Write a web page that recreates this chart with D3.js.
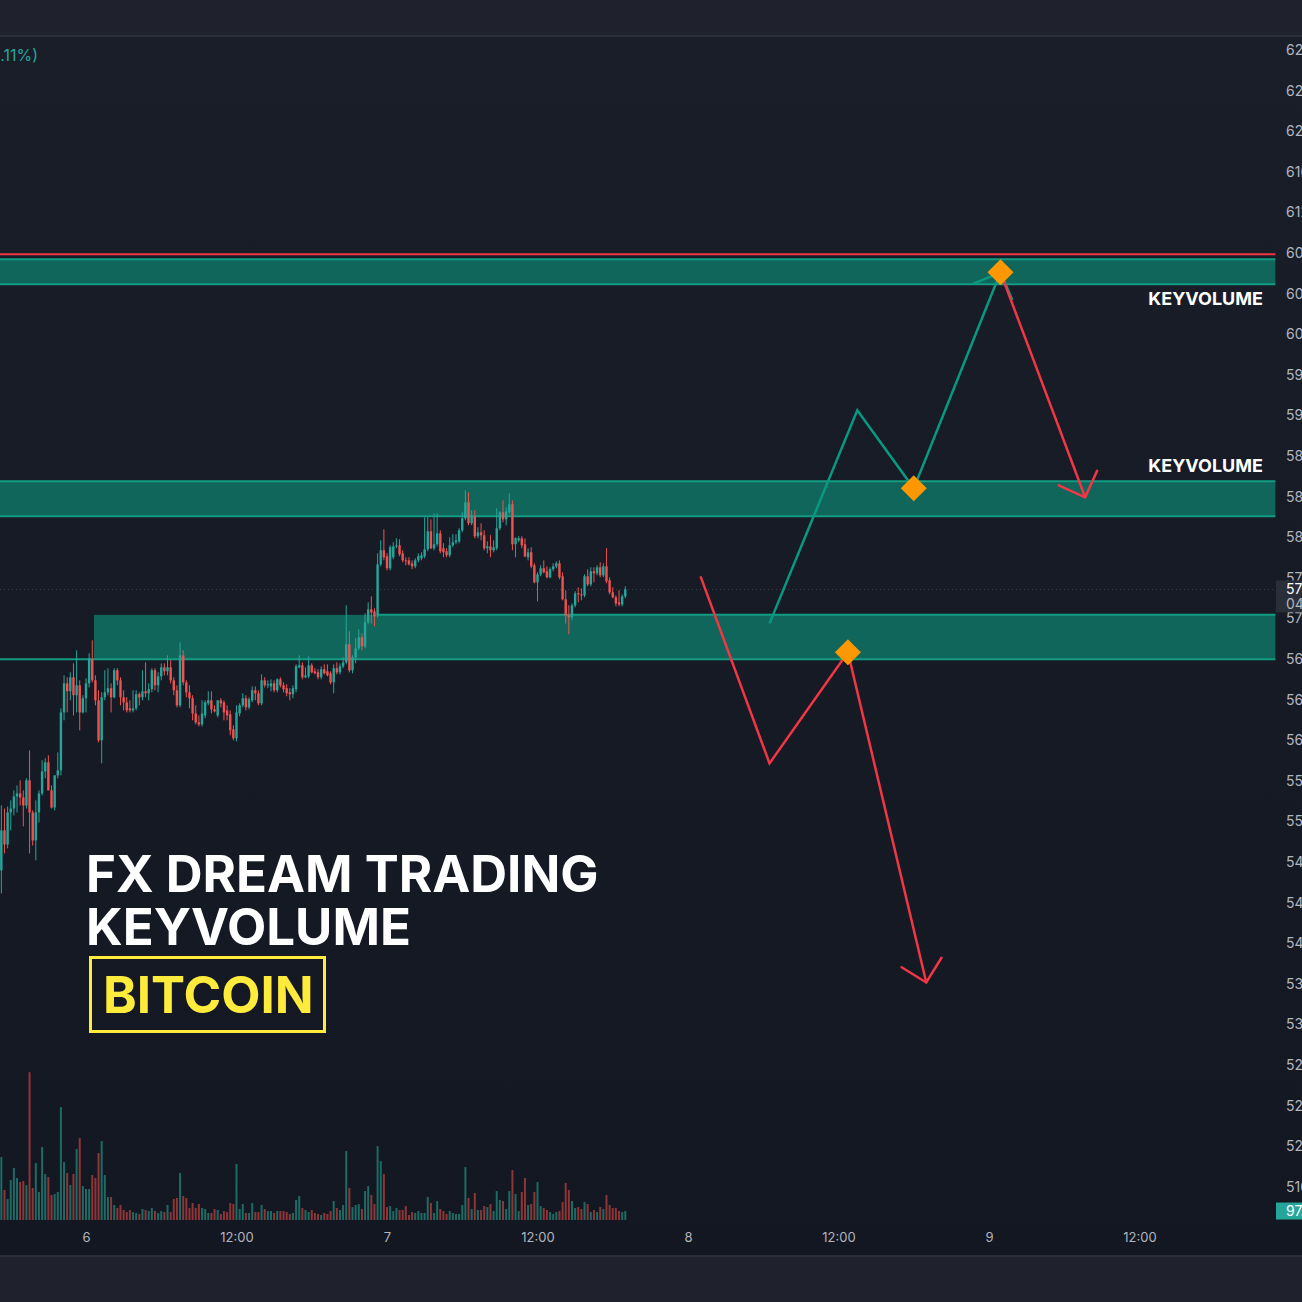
<!DOCTYPE html>
<html>
<head>
<meta charset="utf-8">
<script src="https://cdn.jsdelivr.net/npm/d3@7"></script>
<style>
  body { margin: 0; background: #171b26; }
  svg { display: block; }
</style>
</head>
<body>
<svg id="chart"></svg>
<script>
// ---- data ----
// BTC 15 minute candles, first bar at 5th 17:15 UTC
var firstBar = Date.UTC(2024, 7, 5, 17, 15);
var barMinutes = 15;

// [open, high, low, close]
var ohlc = [
  [54719,55358,54492,55113],[55113,55328,54886,54974],[54974,55348,54936,55290],[55290,55408,55113,55328],
  [55328,55507,55260,55447],[55447,55556,55290,55477],[55477,55606,55358,55437],[55437,55507,55153,55358],
  [55358,55626,55328,55606],[55606,55901,54886,55290],[55290,55310,54964,55014],[55014,55408,54817,55290],
  [55290,55507,55191,55477],[55477,55803,55457,55694],[55694,55823,55626,55783],[55783,55852,55507,55507],
  [55507,55556,55328,55338],[55338,55655,55310,55655],[55655,55881,55626,55704],[55704,56315,55655,56275],
  [56275,56640,56197,56561],[56561,56621,56275,56483],[56483,56670,56394,56621],[56621,56758,56245,56444],
  [56444,56887,56275,56542],[56542,56591,56098,56275],[56275,56444,56265,56414],[56414,56611,56275,56561],
  [56561,56857,56521,56808],[56798,56985,56571,56591],[56591,56640,56345,56394],[56394,56493,55980,56000],
  [56000,56473,55773,56424],[56424,56690,56394,56473],[56473,56710,56444,56513],[56513,56561,56275,56424],
  [56424,56710,56414,56690],[56690,56710,56542,56591],[56591,56621,56345,56424],[56424,56493,56295,56374],
  [56374,56424,56275,56295],[56315,56394,56275,56295],[56295,56493,56275,56315],[56315,56493,56295,56454],
  [56454,56473,56345,56424],[56424,56690,56394,56483],[56483,56768,56424,56463],[56463,56561,56394,56503],
  [56503,56710,56473,56690],[56690,56710,56493,56542],[56542,56670,56473,56630],[56630,56758,56591,56719],
  [56719,56758,56640,56680],[56680,56837,56640,56719],[56719,56788,56561,56591],[56591,56621,56444,56493],
  [56493,56542,56325,56345],[56345,56965,56325,56837],[56837,56887,56542,56571],[56571,56591,56424,56473],
  [56473,56542,56315,56414],[56414,56444,56197,56265],[56265,56345,56157,56177],[56177,56245,56137,56157],
  [56157,56394,56137,56265],[56245,56394,56217,56374],[56364,56483,56345,56394],[56394,56483,56265,56305],
  [56305,56345,56275,56285],[56245,56394,56227,56394],[56394,56414,56325,56364],[56374,56394,56197,56275],
  [56295,56345,56197,56245],[56255,56295,56049,56098],[56108,56147,56000,56020],[56020,56345,55990,56275],
  [56265,56364,56236,56345],[56345,56463,56325,56414],[56414,56444,56295,56325],[56325,56424,56305,56404],
  [56394,56532,56374,56493],[56493,56532,56394,56463],[56463,56493,56345,56364],[56364,56650,56345,56591],
  [56591,56621,56521,56542],[56542,56591,56513,56552],[56532,56601,56483,56561],[56561,56591,56473,56493],
  [56493,56611,56473,56601],[56601,56621,56521,56542],[56542,56571,56473,56503],[56513,56552,56434,56463],
  [56473,56513,56394,56454],[56454,56542,56414,56513],[56503,56748,56473,56729],[56719,56837,56709,56739],
  [56739,56768,56601,56621],[56621,56719,56611,56640],[56630,56827,56611,56739],[56739,56758,56660,56670],
  [56680,56710,56650,56660],[56670,56700,56601,56621],[56621,56729,56601,56700],[56700,56748,56650,56660],
  [56680,56748,56630,56640],[56660,56680,56552,56571],[56571,56748,56463,56710],[56710,56768,56650,56670],
  [56670,56758,56650,56729],[56729,56817,56709,56768],[56768,57330,56748,56946],[56946,57074,56670,56690],
  [56690,56837,56660,56817],[56817,57005,56758,56906],[56906,57094,56887,57015],[57015,57054,56887,56926],
  [56926,57251,56906,57162],[57162,57359,57142,57290],[57290,57418,57152,57260],[57270,57300,57123,57221],
  [57231,57842,57211,57734],[57734,57970,57714,57872],[57872,58079,57773,57803],[57813,57842,57675,57695],
  [57695,57921,57675,57902],[57803,57951,57783,57911],[57911,57990,57892,57921],[57921,57980,57813,57832],
  [57842,57872,57754,57773],[57773,57803,57724,57763],[57773,57803,57724,57733],[57743,57773,57685,57714],
  [57714,57793,57695,57773],[57773,57842,57754,57813],[57793,57852,57773,57823],[57813,58197,57793,57882],
  [57882,58197,57862,58059],[58059,58177,57882,57892],[57892,58236,57872,57931],[57931,58236,57911,58039],
  [58039,58069,57842,57862],[57892,57941,57803,57852],[57862,57892,57803,57823],[57823,58000,57803,57921],
  [57921,58030,57902,57951],[57951,58030,57931,57970],[57960,58089,57941,58069],[58069,58246,58049,58187],
  [58187,58463,58167,58344],[58344,58443,58118,58138],[58138,58266,58118,58207],[58207,58266,57990,58010],
  [58010,58099,57990,58049],[58049,58138,57970,58020],[58020,58069,57872,57892],[57892,57960,57842,57911],
  [57911,58020,57803,57872],[57872,57970,57852,57902],[57892,58286,57872,58089],[58089,58256,58069,58246],
  [58246,58364,58147,58177],[58177,58295,58118,58256],[58246,58433,58226,58325],[58325,58364,57872,57931],
  [57931,58000,57803,57990],[57970,58010,57951,57990],[57990,58010,57892,57921],[57931,57990,57803,57813],
  [57803,57892,57773,57852],[57852,57902,57695,57714],[57724,57744,57547,57556],[57556,57655,57369,57635],
  [57635,57724,57616,57695],[57695,57773,57645,57655],[57665,57714,57596,57606],[57606,57704,57596,57685],
  [57685,57744,57665,57714],[57714,57763,57695,57744],[57744,57773,57586,57606],[57616,57655,57379,57389],
  [57389,57478,57152,57231],[57231,57330,57044,57211],[57211,57349,57182,57330],[57330,57468,57310,57448],
  [57448,57507,57359,57438],[57438,57497,57379,57428],[57428,57635,57409,57616],[57616,57685,57517,57536],
  [57536,57704,57517,57665],[57665,57704,57556,57645],[57645,57724,57625,57704],[57704,57754,57606,57625],
  [57625,57744,57606,57714],[57714,57892,57547,57566],[57576,57606,57438,57458],[57458,57507,57399,57409],
  [57409,57428,57320,57349],[57359,57478,57320,57339],[57339,57438,57320,57418],[57418,57517,57399,57487]
];

var volume = [
  680,324,227,432,562,454,410,421,378,1598,346,616,302,788,497,464,270,281,302,1220,
  626,508,378,497,767,886,367,335,335,486,454,724,853,486,248,248,162,130,162,108,
  86,108,86,76,65,119,108,97,130,97,76,97,86,162,86,227,238,508,259,238,
  130,184,130,173,130,119,76,76,119,108,65,97,86,184,173,605,119,173,76,76,
  184,86,86,162,119,97,97,76,97,97,97,86,65,76,216,259,130,108,86,108,
  76,65,54,76,65,97,205,130,108,162,745,346,140,162,173,119,313,367,270,173,
  799,637,497,140,151,97,130,108,108,151,54,86,76,97,76,76,248,184,76,205,
  119,97,65,97,76,65,65,162,572,238,119,292,108,108,151,140,173,97,313,216,
  205,119,313,540,281,97,302,454,162,173,302,410,151,130,108,86,65,86,97,194,
  400,324,205,130,140,119,194,173,86,108,86,140,119,270,162,130,130,97,86,97
];

var priceTicks = [62800,62400,62000,61600,61200,60800,60400,60000,59600,59200,58800,58400,58000,
                  57600,57200,56800,56400,56000,55600,55200,54800,54400,54000,53600,53200,52800,52400,52000,51600];
var timeTicks = ["2024-08-06T00:00Z","2024-08-06T12:00Z","2024-08-07T00:00Z","2024-08-07T12:00Z",
                 "2024-08-08T00:00Z","2024-08-08T12:00Z","2024-08-09T00:00Z","2024-08-09T12:00Z"];

// key volume zones (time span + price band)
var zoneStart = "2024-08-05T17:00Z";
var zoneEnd = "2024-08-09T22:50Z";
var zoneTops = [60738, 58551, 57236];
var zoneBottoms = [60492, 58206, 56798];
var zoneFillFrom = [zoneStart, zoneStart, "2024-08-06T00:38Z"];
var zoneTopEdgeFrom = [zoneStart, zoneStart, "2024-08-06T23:12Z"];
var resistance = 60788;

// projection drawings [time, price]
var pathDown = [["2024-08-08T01:00Z",57615],["2024-08-08T06:30Z",55773],["2024-08-08T12:45Z",56867],["2024-08-08T19:00Z",53615]];
var pathUp = [["2024-08-08T06:30Z",57152],["2024-08-08T13:30Z",59251],["2024-08-08T18:00Z",58482],["2024-08-09T00:55Z",60610]];
var pathPullback = [["2024-08-09T00:55Z",60610],["2024-08-09T07:40Z",58394]];
var markers = [["2024-08-09T00:55Z",60610],["2024-08-08T18:00Z",58482],["2024-08-08T12:45Z",56867]];

// ---- layout ----
var W = 1302, H = 1302;
var plotRight = 1275;
var upColor = '#26a69a', downColor = '#ef5350';

var svg = d3.select('#chart').attr('width', W).attr('height', H);

var x = d3.scaleUtc()
    .domain([new Date("2024-08-06T00:00Z"), new Date("2024-08-09T00:00Z")])
    .range([86, 989]);
var y = d3.scaleLinear().domain([51600, 62800]).range([1187, 50]);
var yVol = d3.scaleLinear().domain([0, 1600]).range([1220, 1072]);

var bars = ohlc.map(function (d, i) {
    return { t: new Date(firstBar + i * barMinutes * 60000), o: d[0], h: d[1], l: d[2], c: d[3], v: volume[i] };
});

// background
var defs = svg.append('defs');
var grad = defs.append('linearGradient').attr('id', 'bg').attr('x1', 0).attr('y1', 0).attr('x2', 0).attr('y2', 1);
grad.append('stop').attr('offset', '0%').attr('stop-color', '#1a1e29');
grad.append('stop').attr('offset', '100%').attr('stop-color', '#131722');
svg.append('rect').attr('width', W).attr('height', H).attr('fill', 'url(#bg)');

// top and bottom bars
svg.append('rect').attr('x', 0).attr('y', 0).attr('width', W).attr('height', 35).attr('fill', '#1f222d');
svg.append('rect').attr('x', 0).attr('y', 35).attr('width', W).attr('height', 2).attr('fill', '#2a2e39');
svg.append('rect').attr('x', 0).attr('y', 1256).attr('width', W).attr('height', 46).attr('fill', '#1f222d');
svg.append('rect').attr('x', 0).attr('y', 1255).attr('width', W).attr('height', 2).attr('fill', '#2a2e39');

// zones
var zoneIdx = d3.range(zoneTops.length);
var zg = svg.append('g');
zg.selectAll('rect.zone')
    .data(zoneIdx).enter().append('rect')
    .attr('class', 'zone')
    .attr('x', function (i) { return Math.max(0, x(new Date(zoneFillFrom[i]))); })
    .attr('y', function (i) { return y(zoneTops[i]); })
    .attr('width', function (i) { return x(new Date(zoneEnd)) - Math.max(0, x(new Date(zoneFillFrom[i]))); })
    .attr('height', function (i) { return y(zoneBottoms[i]) - y(zoneTops[i]); })
    .attr('fill', '#10665a');
zg.selectAll('line.ztop')
    .data(zoneIdx).enter().append('line')
    .attr('x1', function (i) { return x(new Date(zoneTopEdgeFrom[i])); })
    .attr('x2', x(new Date(zoneEnd)))
    .attr('y1', function (i) { return y(zoneTops[i]); })
    .attr('y2', function (i) { return y(zoneTops[i]); })
    .attr('stroke', '#129c82').attr('stroke-width', 2);
zg.selectAll('line.zbot')
    .data(zoneIdx).enter().append('line')
    .attr('x1', x(new Date(zoneStart)))
    .attr('x2', x(new Date(zoneEnd)))
    .attr('y1', function (i) { return y(zoneBottoms[i]); })
    .attr('y2', function (i) { return y(zoneBottoms[i]); })
    .attr('stroke', '#129c82').attr('stroke-width', 2);

// resistance line
svg.append('line')
    .attr('x1', x(new Date(zoneStart))).attr('x2', x(new Date(zoneEnd)))
    .attr('y1', y(resistance)).attr('y2', y(resistance))
    .attr('stroke', '#f23645').attr('stroke-width', 2);

// last price dotted line
var last = bars[bars.length - 1];
svg.append('line')
    .attr('x1', 0).attr('x2', plotRight)
    .attr('y1', Math.round(y(last.c)) + 0.5).attr('y2', Math.round(y(last.c)) + 0.5)
    .attr('stroke', '#3b3f4c').attr('stroke-width', 1).attr('stroke-dasharray', '1,3');

// volume
svg.append('g').selectAll('rect')
    .data(bars).enter().append('rect')
    .attr('x', function (d) { return x(d.t) - 1; })
    .attr('y', function (d) { return yVol(d.v); })
    .attr('width', 2)
    .attr('height', function (d) { return yVol(0) - yVol(d.v); })
    .attr('fill', function (d) { return d.c >= d.o ? '#1c6b64' : '#8e3536'; });

// candles
var cg = svg.append('g').selectAll('g').data(bars).enter().append('g');
cg.append('line')
    .attr('x1', function (d) { return x(d.t); })
    .attr('x2', function (d) { return x(d.t); })
    .attr('y1', function (d) { return y(d.h); })
    .attr('y2', function (d) { return y(d.l); })
    .attr('stroke', function (d) { return d.c >= d.o ? upColor : downColor; })
    .attr('stroke-width', 1);
cg.append('rect')
    .attr('x', function (d) { return x(d.t) - 1.2; })
    .attr('y', function (d) { return y(Math.max(d.o, d.c)); })
    .attr('width', 2.4)
    .attr('height', function (d) { return Math.max(1, Math.abs(y(d.o) - y(d.c))); })
    .attr('fill', function (d) { return d.c >= d.o ? upColor : downColor; });

// projection paths with arrow heads
var line = d3.line()
    .x(function (d) { return x(new Date(d[0])); })
    .y(function (d) { return y(d[1]); });

function drawArrow(pts, color) {
    svg.append('path').attr('d', line(pts))
        .attr('fill', 'none').attr('stroke', color).attr('stroke-width', 2.5)
        .attr('stroke-linejoin', 'miter');
    var a = pts[pts.length - 2], b = pts[pts.length - 1];
    var bx = x(new Date(b[0])), by = y(b[1]);
    var ang = Math.atan2(y(a[1]) - by, x(new Date(a[0])) - bx);
    var len = 29;
    [-Math.PI / 4, Math.PI / 4].forEach(function (off) {
        svg.append('line')
            .attr('x1', bx).attr('y1', by)
            .attr('x2', bx + len * Math.cos(ang + off))
            .attr('y2', by + len * Math.sin(ang + off))
            .attr('stroke', color).attr('stroke-width', 2.5).attr('stroke-linecap', 'round');
    });
}
drawArrow(pathDown, '#f23645');
drawArrow(pathUp, '#089981');
drawArrow(pathPullback, '#f23645');

// diamond markers
svg.append('g').selectAll('path')
    .data(markers).enter().append('path')
    .attr('d', 'M0,-13L13,0L0,13L-13,0Z')
    .attr('transform', function (d) { return 'translate(' + x(new Date(d[0])) + ',' + y(d[1]) + ')'; })
    .attr('fill', '#ff9800');

// zone labels
svg.append('text')
    .attr('x', 1263).attr('y', y(zoneBottoms[0]) + 21)
    .attr('text-anchor', 'end')
    .style('font', '700 18px Inter, sans-serif').attr('fill', '#ffffff')
    .text('KEYVOLUME');
svg.append('text')
    .attr('x', 1263).attr('y', y(zoneTops[1]) - 9)
    .attr('text-anchor', 'end')
    .style('font', '700 18px Inter, sans-serif').attr('fill', '#ffffff')
    .text('KEYVOLUME');

// title block
var title = svg.append('g').style('font', '700 51px Inter, sans-serif');
title.append('text').attr('x', 86).attr('y', 892).attr('fill', '#ffffff').text('FX DREAM TRADING');
title.append('text').attr('x', 86).attr('y', 945).attr('fill', '#ffffff').text('KEYVOLUME');
svg.append('rect').attr('x', 90.5).attr('y', 957.5).attr('width', 234).attr('height', 74)
    .attr('fill', 'none').attr('stroke', '#ffeb3b').attr('stroke-width', 3);
title.append('text').attr('x', 103).attr('y', 1013).attr('fill', '#ffeb3b').text('BITCOIN');

// change text (cut at left edge)
svg.append('text')
    .attr('x', 38).attr('y', 61).attr('text-anchor', 'end')
    .style('font', '400 16px Inter, sans-serif').attr('fill', '#26a69a')
    .text('+1,201.50 (+2.11%)');

// price axis
svg.append('g').selectAll('text')
    .data(priceTicks).enter().append('text')
    .attr('x', 1286).attr('y', function (d) { return y(d); })
    .attr('dy', '0.35em')
    .style('font', '400 14px Inter, sans-serif').attr('fill', '#b2b5be')
    .text(function (d) { return d3.format('.2f')(d); });

// last price label
svg.append('rect').attr('x', 1276).attr('y', y(last.c) - 9).attr('width', 30).attr('height', 32).attr('fill', '#2a2e39');
svg.append('text').attr('x', 1286).attr('y', y(last.c)).attr('dy', '0.35em')
    .style('font', '400 14px Inter, sans-serif').attr('fill', '#ffffff')
    .text(d3.format('.2f')(last.c));
svg.append('text').attr('x', 1286).attr('y', y(last.c) + 15).attr('dy', '0.35em')
    .style('font', '400 14px Inter, sans-serif').attr('fill', '#b2b5be')
    .text('04:12');

// last volume label
svg.append('rect').attr('x', 1276).attr('y', yVol(last.v) - 8.5).attr('width', 30).attr('height', 17).attr('fill', '#26a69a');
svg.append('text').attr('x', 1286).attr('y', yVol(last.v)).attr('dy', '0.35em')
    .style('font', '400 14px Inter, sans-serif').attr('fill', '#ffffff')
    .text(d3.format('.2f')(last.v));

// time axis
var timeAxis = d3.axisBottom(x)
    .tickValues(timeTicks.map(function (s) { return new Date(s); }))
    .tickSize(0)
    .tickFormat(function (d) { return d.getUTCHours() === 0 ? String(d.getUTCDate()) : '12:00'; });
var tg = svg.append('g').attr('transform', 'translate(0,1230)').call(timeAxis);
tg.select('.domain').remove();
tg.selectAll('text')
    .style('font', '400 13px Inter, sans-serif')
    .attr('fill', '#b2b5be')
    .attr('font-weight', function (d) { return d.getUTCHours() === 0 && d.getUTCDate() === 8 ? 700 : 400; });
</script>
</body>
</html>
